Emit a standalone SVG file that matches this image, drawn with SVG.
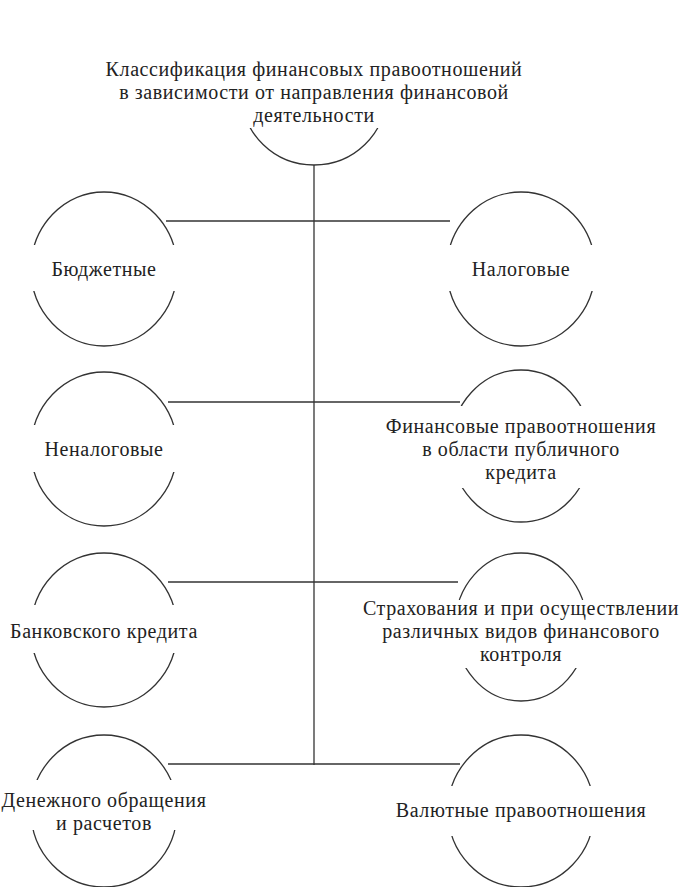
<svg xmlns="http://www.w3.org/2000/svg" width="680" height="887" viewBox="0 0 680 887">
<style>
.c{fill:none;stroke:#333;stroke-width:1.3}
.b{fill:#fff}
.l{stroke:#333;stroke-width:1.3;fill:none}
text{font-family:"Liberation Serif","DejaVu Serif",serif;font-size:20px;letter-spacing:0.6px;fill:#222;text-anchor:middle}
</style>
<rect width="680" height="887" fill="#fff"/>
<g id="connectors">
<line class="l" x1="314" y1="165" x2="314" y2="765"/>
<line class="l" x1="166" y1="221" x2="450" y2="221"/>
<line class="l" x1="168" y1="402" x2="460" y2="402"/>
<line class="l" x1="168" y1="582" x2="458" y2="582"/>
<line class="l" x1="168" y1="764" x2="460" y2="764"/>
</g>
<g id="root">
<ellipse class="c" cx="314" cy="95" rx="72" ry="70"/>
<rect class="b" x="60" y="10" width="520" height="118"/>
<text x="314" y="76">Классификация финансовых правоотношений</text>
<text x="314" y="99">в зависимости от направления финансовой</text>
<text x="314" y="122">деятельности</text>
</g>
<g id="n1">
<ellipse class="c" cx="104" cy="269" rx="73" ry="77"/>
<rect class="b" x="20" y="245" width="170" height="46"/>
<text x="104" y="276">Бюджетные</text>
</g>
<g id="n2">
<ellipse class="c" cx="521" cy="269" rx="74" ry="77"/>
<rect class="b" x="440" y="245" width="170" height="46"/>
<text x="521" y="276">Налоговые</text>
</g>
<g id="n3">
<ellipse class="c" cx="104" cy="449" rx="73" ry="77"/>
<rect class="b" x="20" y="425" width="170" height="47"/>
<text x="104" y="456">Неналоговые</text>
</g>
<g id="n4">
<ellipse class="c" cx="521" cy="446" rx="70" ry="76"/>
<rect class="b" x="370" y="406" width="300" height="82"/>
<text x="521" y="433">Финансовые правоотношения</text>
<text x="521" y="456">в области публичного</text>
<text x="521" y="479">кредита</text>
</g>
<g id="n5">
<ellipse class="c" cx="104" cy="630" rx="73" ry="77"/>
<rect class="b" x="0" y="605" width="210" height="48"/>
<text x="104" y="638">Банковского кредита</text>
</g>
<g id="n6">
<ellipse class="c" cx="521" cy="627" rx="66" ry="74"/>
<rect class="b" x="360" y="600" width="320" height="68"/>
<text x="521" y="615">Страхования и при осуществлении</text>
<text x="521" y="638">различных видов финансового</text>
<text x="521" y="661">контроля</text>
</g>
<g id="n7">
<ellipse class="c" cx="104" cy="811" rx="73" ry="76"/>
<rect class="b" x="0" y="780" width="220" height="50"/>
<text x="104" y="807">Денежного обращения</text>
<text x="104" y="830">и расчетов</text>
</g>
<g id="n8">
<ellipse class="c" cx="521" cy="811" rx="73" ry="76"/>
<rect class="b" x="380" y="786" width="290" height="50"/>
<text x="521" y="817">Валютные правоотношения</text>
</g>
</svg>
